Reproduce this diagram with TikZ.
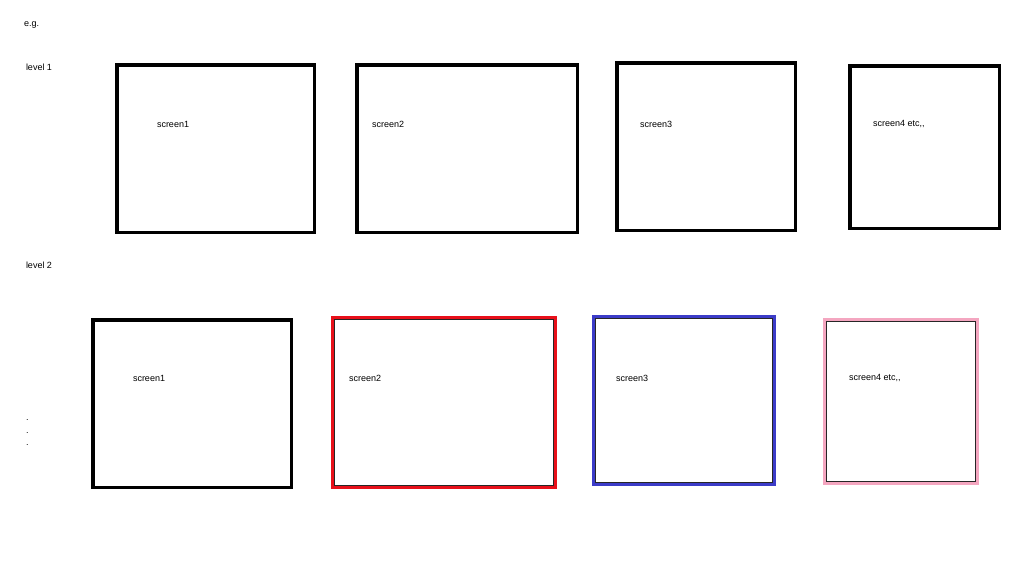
\documentclass[tikz,border=0pt]{standalone}
\usepackage{fontspec}
\setmainfont{Liberation Sans}
\definecolor{boxred}{RGB}{232,16,26}
\definecolor{boxblue}{RGB}{60,60,200}
\definecolor{boxpink}{RGB}{244,166,192}
\begin{document}
\begin{tikzpicture}[x=1pt,y=-1pt,
  every node/.style={inner sep=0pt,outer sep=0pt},
  scr/.style={draw=black,line width=3.5pt,rectangle,fill=none},
  colbox/.style={draw=#1,line width=3.5pt,rectangle},
  innerline/.style={draw=black!85,line width=0.9pt,rectangle},
  lbl/.style={anchor=west,font=\fontsize{9}{10}\selectfont},
]
\useasboundingbox[fill=white] (0,0) rectangle (1024,574);
% labels
\node[lbl] (eg) at (24,25) {e.g.};
\node[lbl] (lv1) at (26,67) {level 1};
\node[lbl] (lv2) at (26,265) {level 2};
\node[lbl] (d1) at (26,420) {.};
\node[lbl] (d2) at (26,433) {.};
\node[lbl] (d3) at (26,445) {.};
% level 1
\node[scr,minimum width=197.5pt,minimum height=167.5pt] (a1) at (215.5,148.5) {};
\node[scr,minimum width=220.5pt,minimum height=167.5pt] (a2) at (467,148.5) {};
\node[scr,minimum width=178.5pt,minimum height=167.5pt] (a3) at (706,146.5) {};
\node[scr,minimum width=149.5pt,minimum height=162.5pt] (a4) at (924.5,147) {};
\node[lbl] (ta1) at (157,124) {screen1};
\node[lbl] (ta2) at (372,124) {screen2};
\node[lbl] (ta3) at (640,124) {screen3};
\node[lbl] (ta4) at (873,124) {screen4 etc,{},};
% level 2
\node[scr,minimum width=198.5pt,minimum height=167.5pt] (b1) at (192,403.5) {};
\node[colbox=boxred,minimum width=222.5pt,minimum height=169.5pt] (b2) at (444,402.5) {};
\node[innerline,minimum width=218.2pt,minimum height=165.2pt] (b2i) at (444,402.5) {};
\node[colbox=boxblue,minimum width=180.5pt,minimum height=167.5pt] (b3) at (684,400.5) {};
\node[innerline,minimum width=176.2pt,minimum height=163.2pt] (b3i) at (684,400.5) {};
\node[colbox=boxpink,minimum width=152.5pt,minimum height=163.5pt] (b4) at (901,401.5) {};
\node[innerline,minimum width=148.2pt,minimum height=159.2pt] (b4i) at (901,401.5) {};
\node[lbl] (tb1) at (133,378) {screen1};
\node[lbl] (tb2) at (349,378) {screen2};
\node[lbl] (tb3) at (616,378) {screen3};
\node[lbl] (tb4) at (849,378) {screen4 etc,{},};
\end{tikzpicture}
\end{document}
